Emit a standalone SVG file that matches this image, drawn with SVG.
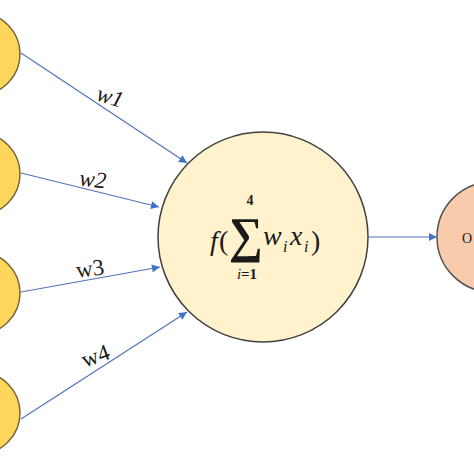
<svg xmlns="http://www.w3.org/2000/svg" width="474" height="474" viewBox="0 0 474 474">
<defs>
<style>
.inp{fill:#FFD65C;stroke:#75663F;stroke-width:1.5}
.conn{stroke:#4F73BA;stroke-width:1.2;fill:none}
.lbl{font-family:"Liberation Serif",serif;font-size:23px;fill:#1a1a1a}
.math{font-family:"Liberation Serif",serif;fill:#1a1a1a}
</style>
<marker id="arr" viewBox="0 0 10 10" refX="10" refY="5" markerWidth="9" markerHeight="8" markerUnits="userSpaceOnUse" orient="auto">
<path d="M0,0 L10,5 L0,10 Z" fill="#4472C4"/>
</marker>
</defs>
<rect width="474" height="474" fill="#ffffff"/>
<g id="input1"><circle class="inp" cx="-21" cy="54" r="41"/></g>
<g id="input2"><circle class="inp" cx="-21" cy="174" r="41"/></g>
<g id="input3"><circle class="inp" cx="-21" cy="293" r="41"/></g>
<g id="input4"><circle class="inp" cx="-21" cy="413" r="41"/></g>
<g id="neuron">
<circle cx="263" cy="237" r="105" fill="#FFF2CC" stroke="#404040" stroke-width="1.5"/>
<text class="math" x="210" y="250" font-size="28" font-style="italic">f</text>
<text class="math" x="219" y="250" font-size="28">(</text>
<text class="math" text-anchor="middle" font-size="50" font-weight="bold" transform="translate(246,252) scale(0.95,1)">∑</text>
<text class="math" x="250" y="205" font-size="14" font-weight="bold" text-anchor="middle">4</text>
<text class="math" x="247" y="279" font-size="15" font-weight="bold" text-anchor="middle"><tspan font-style="italic" font-weight="normal">i</tspan>=1</text>
<text class="math" x="263" y="245" font-size="28" font-style="italic">w</text>
<text class="math" x="283" y="252" font-size="16" font-style="italic">i</text>
<text class="math" x="290" y="245" font-size="28" font-style="italic">x</text>
<text class="math" x="304" y="252" font-size="16" font-style="italic">i</text>
<text class="math" x="311" y="250" font-size="28">)</text>
</g>
<g id="output">
<circle cx="492" cy="237" r="55" fill="#F8CBAD" stroke="#555555" stroke-width="1.5"/>
<text class="math" x="462" y="243" font-size="14">O</text>
</g>
<g id="connectors">
<line class="conn" x1="21" y1="53" x2="187" y2="163" marker-end="url(#arr)"/>
<line class="conn" x1="21" y1="173" x2="159" y2="207" marker-end="url(#arr)"/>
<line class="conn" x1="21" y1="292" x2="160" y2="267" marker-end="url(#arr)"/>
<line class="conn" x1="21" y1="419" x2="187" y2="312" marker-end="url(#arr)"/>
<line class="conn" x1="368" y1="237" x2="437" y2="237" marker-end="url(#arr)"/>
</g>
<g id="labels">
<text class="lbl" font-style="italic" text-anchor="middle" transform="translate(108,104) rotate(17)">w1</text>
<text class="lbl" font-style="italic" text-anchor="middle" transform="translate(92,187) rotate(6)">w2</text>
<text class="lbl" text-anchor="middle" transform="translate(91,276) rotate(-7)">w3</text>
<text class="lbl" text-anchor="middle" transform="translate(98,363) rotate(-20)">w4</text>
</g>
</svg>
